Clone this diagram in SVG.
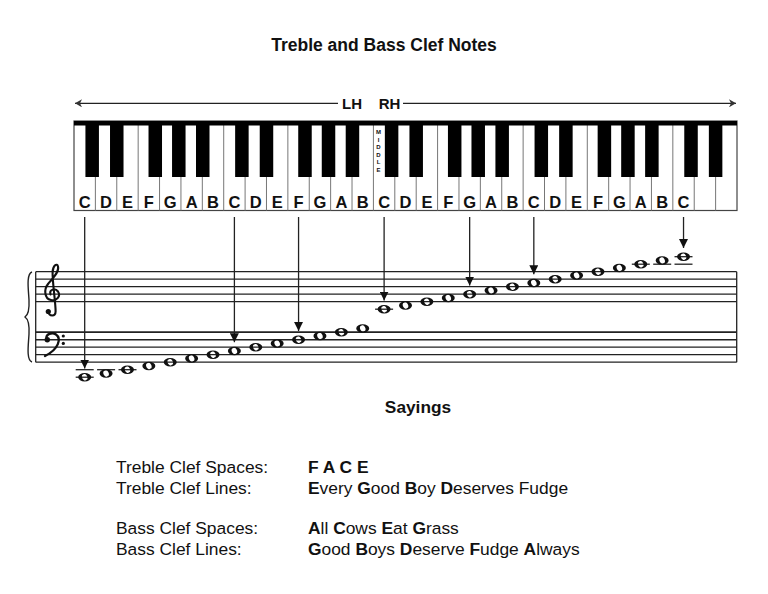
<svg xmlns="http://www.w3.org/2000/svg" xmlns:xlink="http://www.w3.org/1999/xlink" width="768" height="594" viewBox="0 0 768 594">
<style>
.t{font-family:"Liberation Sans",Arial,sans-serif;fill:#111}
.b{font-weight:bold}
.lab{font-family:"Liberation Sans",Arial,sans-serif;font-weight:bold;font-size:16.5px;fill:#111;text-anchor:middle}
.div{stroke:#777;stroke-width:1}
.bk{fill:#000}
.st{stroke:#222;stroke-width:1.3}
.led{stroke:#222;stroke-width:1.3}
.arr{stroke:#222;stroke-width:1.3;fill:none}
.sub{font-family:"Liberation Sans",Arial,sans-serif;font-size:17.4px;fill:#111}
</style>
<defs>
<marker id="ah" markerUnits="userSpaceOnUse" markerWidth="10" markerHeight="9" refX="9" refY="4.5" orient="auto">
<path d="M0,0 L9,4.5 L0,9 z" fill="#111"/>
</marker>
<marker id="ah2" markerUnits="userSpaceOnUse" markerWidth="8" markerHeight="8" refX="7" refY="4" orient="auto">
<path d="M0,0 L7,4 L0,8 L2,4 z" fill="#333"/>
</marker>
<path id="note" fill="#111" fill-rule="evenodd" d="M-6.5 0 A6.5 4.2 0 1 0 6.5 0 A6.5 4.2 0 1 0 -6.5 0 Z M-1.6 -2.6 A3.2 2.0 60 1 0 1.6 2.6 A3.2 2.0 60 1 0 -1.6 -2.6 Z"/>
</defs>
<rect width="768" height="594" fill="#fff"/>

<g id="title">
<text class="t b" x="384" y="50.5" font-size="17.5" text-anchor="middle">Treble and Bass Clef Notes</text>
</g>

<g id="hands">
<line class="arr" x1="338" y1="103.3" x2="75" y2="103.3" stroke="#333" stroke-width="1.5" marker-end="url(#ah2)"/>
<line class="arr" x1="403" y1="103.3" x2="736" y2="103.3" stroke="#333" stroke-width="1.5" marker-end="url(#ah2)"/>
<text class="t b" x="352" y="109" font-size="15" text-anchor="middle">LH</text>
<text class="t b" x="389.5" y="109" font-size="15" text-anchor="middle">RH</text>
</g>

<g id="keyboard">
<rect x="74" y="121" width="663" height="89.5" fill="#fff" stroke="#444" stroke-width="1.2"/>
<g class="div">
<line x1="95.39" y1="121" x2="95.39" y2="210.5"/><line x1="116.77" y1="121" x2="116.77" y2="210.5"/><line x1="138.16" y1="121" x2="138.16" y2="210.5"/><line x1="159.55" y1="121" x2="159.55" y2="210.5"/><line x1="180.94" y1="121" x2="180.94" y2="210.5"/><line x1="202.32" y1="121" x2="202.32" y2="210.5"/><line x1="223.71" y1="121" x2="223.71" y2="210.5"/><line x1="245.10" y1="121" x2="245.10" y2="210.5"/><line x1="266.48" y1="121" x2="266.48" y2="210.5"/><line x1="287.87" y1="121" x2="287.87" y2="210.5"/>
<line x1="309.26" y1="121" x2="309.26" y2="210.5"/><line x1="330.64" y1="121" x2="330.64" y2="210.5"/><line x1="352.03" y1="121" x2="352.03" y2="210.5"/><line x1="373.42" y1="121" x2="373.42" y2="210.5"/><line x1="394.81" y1="121" x2="394.81" y2="210.5"/><line x1="416.19" y1="121" x2="416.19" y2="210.5"/><line x1="437.58" y1="121" x2="437.58" y2="210.5"/><line x1="458.97" y1="121" x2="458.97" y2="210.5"/><line x1="480.35" y1="121" x2="480.35" y2="210.5"/><line x1="501.74" y1="121" x2="501.74" y2="210.5"/>
<line x1="523.13" y1="121" x2="523.13" y2="210.5"/><line x1="544.51" y1="121" x2="544.51" y2="210.5"/><line x1="565.90" y1="121" x2="565.90" y2="210.5"/><line x1="587.29" y1="121" x2="587.29" y2="210.5"/><line x1="608.68" y1="121" x2="608.68" y2="210.5"/><line x1="630.06" y1="121" x2="630.06" y2="210.5"/><line x1="651.45" y1="121" x2="651.45" y2="210.5"/><line x1="672.84" y1="121" x2="672.84" y2="210.5"/><line x1="694.22" y1="121" x2="694.22" y2="210.5"/><line x1="715.61" y1="121" x2="715.61" y2="210.5"/>
</g>
<rect x="74" y="121" width="663" height="4.5" fill="#000"/>
<g class="bk">
<rect x="85.43" y="121" width="13.5" height="56"/><rect x="110.02" y="121" width="13.5" height="56"/><rect x="148.52" y="121" width="13.5" height="56"/><rect x="172.05" y="121" width="13.5" height="56"/><rect x="196.0" y="121" width="13.5" height="56"/>
<rect x="235.14" y="121" width="13.5" height="56"/><rect x="259.73" y="121" width="13.5" height="56"/><rect x="298.23" y="121" width="13.5" height="56"/><rect x="321.76" y="121" width="13.5" height="56"/><rect x="345.71" y="121" width="13.5" height="56"/>
<rect x="384.85" y="121" width="13.5" height="56"/><rect x="409.44" y="121" width="13.5" height="56"/><rect x="447.94" y="121" width="13.5" height="56"/><rect x="471.47" y="121" width="13.5" height="56"/><rect x="495.42" y="121" width="13.5" height="56"/>
<rect x="534.56" y="121" width="13.5" height="56"/><rect x="559.15" y="121" width="13.5" height="56"/><rect x="597.65" y="121" width="13.5" height="56"/><rect x="621.18" y="121" width="13.5" height="56"/><rect x="645.13" y="121" width="13.5" height="56"/>
<rect x="684.27" y="121" width="13.5" height="56"/><rect x="708.86" y="121" width="13.5" height="56"/>
</g>
<g font-family="Liberation Sans,Arial,sans-serif" font-weight="bold" font-size="6" fill="#111" text-anchor="middle">
<text x="378.5" y="134">M</text><text x="378.5" y="141.5">I</text><text x="378.5" y="149">D</text><text x="378.5" y="156.5">D</text><text x="378.5" y="164">L</text><text x="378.5" y="171.5">E</text>
</g>
<g class="lab">
<text x="84.69" y="208.3">C</text><text x="106.08" y="208.3">D</text><text x="127.47" y="208.3">E</text><text x="148.85" y="208.3">F</text><text x="170.24" y="208.3">G</text><text x="191.63" y="208.3">A</text><text x="213.02" y="208.3">B</text>
<text x="234.40" y="208.3">C</text><text x="255.79" y="208.3">D</text><text x="277.18" y="208.3">E</text><text x="298.56" y="208.3">F</text><text x="319.95" y="208.3">G</text><text x="341.34" y="208.3">A</text><text x="362.73" y="208.3">B</text>
<text x="384.11" y="208.3">C</text><text x="405.50" y="208.3">D</text><text x="426.89" y="208.3">E</text><text x="448.27" y="208.3">F</text><text x="469.66" y="208.3">G</text><text x="491.05" y="208.3">A</text><text x="512.44" y="208.3">B</text>
<text x="533.82" y="208.3">C</text><text x="555.21" y="208.3">D</text><text x="576.60" y="208.3">E</text><text x="597.98" y="208.3">F</text><text x="619.37" y="208.3">G</text><text x="640.76" y="208.3">A</text><text x="662.15" y="208.3">B</text>
<text x="683.53" y="208.3">C</text>
</g>
</g>

<g id="staff">
<g class="st">
<line x1="35.7" y1="271.7" x2="736.7" y2="271.7"/><line x1="35.7" y1="279.2" x2="736.7" y2="279.2"/><line x1="35.7" y1="286.7" x2="736.7" y2="286.7"/><line x1="35.7" y1="294.2" x2="736.7" y2="294.2"/><line x1="35.7" y1="301.7" x2="736.7" y2="301.7"/>
<line x1="35.7" y1="332.2" x2="736.7" y2="332.2" stroke-width="1.7"/><line x1="35.7" y1="339.7" x2="736.7" y2="339.7" stroke-width="1.6"/><line x1="35.7" y1="347.2" x2="736.7" y2="347.2"/><line x1="35.7" y1="354.7" x2="736.7" y2="354.7"/><line x1="35.7" y1="362.2" x2="736.7" y2="362.2"/>
<line x1="35.7" y1="271.7" x2="35.7" y2="362.2"/><line x1="736.7" y1="271.7" x2="736.7" y2="362.2"/>
</g>
<path d="M32 272 C26 274 28.5 290 29 300 C29.5 310 28 315 25 317 C28 319 29.5 324 29 334 C28.5 344 26 360 32 362" fill="none" stroke="#222" stroke-width="1.4"/>
<g id="treble-clef" fill="none" stroke="#111" stroke-width="2.1" stroke-linecap="round">
<path d="M48.5 312 C49 316.5 55.5 317 55.6 311.5 C55.8 304 52.2 281 52.6 272 C53 265.5 57 262.5 58 266.5 C59.5 272.5 52 279 48 284 C44 289 44 298.5 51 300 C57 301.2 61 296 58 291.5 C55 287.5 49 289.5 50.5 294.5"/>
<circle cx="48.3" cy="311.5" r="2.6" fill="#111" stroke="none"/>
</g>
<g id="bass-clef" fill="none" stroke="#111" stroke-linecap="round">
<path d="M46.5 339 C45.5 334 52 331.8 56 334.5 C61.5 338.5 59 349 45 356" stroke-width="2.3"/>
<circle cx="47.3" cy="339.8" r="2.7" fill="#111" stroke="none"/>
<circle cx="63.3" cy="336" r="1.6" fill="#111" stroke="none"/>
<circle cx="63.3" cy="343.4" r="1.6" fill="#111" stroke="none"/>
</g>
<g class="led">
<line x1="75.7" y1="369.7" x2="93.7" y2="369.7"/><line x1="75.7" y1="377.2" x2="93.7" y2="377.2"/>
<line x1="97.1" y1="369.7" x2="115.1" y2="369.7"/><line x1="118.5" y1="369.7" x2="136.5" y2="369.7"/>
<line x1="375.1" y1="309.2" x2="393.1" y2="309.2"/>
<line x1="631.8" y1="264.2" x2="649.8" y2="264.2"/><line x1="653.2" y1="264.2" x2="671.2" y2="264.2"/>
<line x1="674.5" y1="264.2" x2="692.5" y2="264.2"/><line x1="674.5" y1="256.7" x2="692.5" y2="256.7"/>
</g>
</g>

<g id="notes">
<use id="n-C2" xlink:href="#note" href="#note" x="84.69" y="377.2"/>
<use id="n-D2" xlink:href="#note" href="#note" x="106.08" y="373.45"/>
<use id="n-E2" xlink:href="#note" href="#note" x="127.47" y="369.7"/>
<use id="n-F2" xlink:href="#note" href="#note" x="148.85" y="365.95"/>
<use id="n-G2" xlink:href="#note" href="#note" x="170.24" y="362.2"/>
<use id="n-A2" xlink:href="#note" href="#note" x="191.63" y="358.45"/>
<use id="n-B2" xlink:href="#note" href="#note" x="213.02" y="354.7"/>
<use id="n-C3" xlink:href="#note" href="#note" x="234.40" y="350.95"/>
<use id="n-D3" xlink:href="#note" href="#note" x="255.79" y="347.2"/>
<use id="n-E3" xlink:href="#note" href="#note" x="277.18" y="343.45"/>
<use id="n-F3" xlink:href="#note" href="#note" x="298.56" y="339.7"/>
<use id="n-G3" xlink:href="#note" href="#note" x="319.95" y="335.95"/>
<use id="n-A3" xlink:href="#note" href="#note" x="341.34" y="332.2"/>
<use id="n-B3" xlink:href="#note" href="#note" x="362.73" y="328.45"/>
<use id="n-C4" xlink:href="#note" href="#note" x="384.11" y="309.2"/>
<use id="n-D4" xlink:href="#note" href="#note" x="405.50" y="305.45"/>
<use id="n-E4" xlink:href="#note" href="#note" x="426.89" y="301.7"/>
<use id="n-F4" xlink:href="#note" href="#note" x="448.27" y="297.95"/>
<use id="n-G4" xlink:href="#note" href="#note" x="469.66" y="294.2"/>
<use id="n-A4" xlink:href="#note" href="#note" x="491.05" y="290.45"/>
<use id="n-B4" xlink:href="#note" href="#note" x="512.44" y="286.7"/>
<use id="n-C5" xlink:href="#note" href="#note" x="533.82" y="282.95"/>
<use id="n-D5" xlink:href="#note" href="#note" x="555.21" y="279.2"/>
<use id="n-E5" xlink:href="#note" href="#note" x="576.60" y="275.45"/>
<use id="n-F5" xlink:href="#note" href="#note" x="597.98" y="271.7"/>
<use id="n-G5" xlink:href="#note" href="#note" x="619.37" y="267.95"/>
<use id="n-A5" xlink:href="#note" href="#note" x="640.76" y="264.2"/>
<use id="n-B5" xlink:href="#note" href="#note" x="662.15" y="260.45"/>
<use id="n-C6" xlink:href="#note" href="#note" x="683.53" y="256.7"/>
</g>

<g id="connectors" class="arr">
<line x1="84.69" y1="217" x2="84.69" y2="368.5" marker-end="url(#ah)"/>
<line x1="234.40" y1="217" x2="234.40" y2="342.2" marker-end="url(#ah)"/>
<line x1="298.56" y1="217" x2="298.56" y2="331" marker-end="url(#ah)"/>
<line x1="384.11" y1="217" x2="384.11" y2="300.5" marker-end="url(#ah)"/>
<line x1="469.66" y1="217" x2="469.66" y2="285.5" marker-end="url(#ah)"/>
<line x1="533.82" y1="217" x2="533.82" y2="274.2" marker-end="url(#ah)"/>
<line x1="683.53" y1="217" x2="683.53" y2="248" marker-end="url(#ah)"/>
</g>

<g id="sayings">
<text class="t b" x="418" y="413.3" font-size="17.3" text-anchor="middle">Sayings</text>
<text class="sub" x="116" y="473">Treble Clef Spaces:</text>
<text class="sub" x="116" y="493.5">Treble Clef Lines:</text>
<text class="sub" x="116" y="534">Bass Clef Spaces:</text>
<text class="sub" x="116" y="554.5">Bass Clef Lines:</text>
<text class="sub b" x="308" y="473">F A C E</text>
<text class="sub" x="308" y="493.5"><tspan class="b">E</tspan>very <tspan class="b">G</tspan>ood <tspan class="b">B</tspan>oy <tspan class="b">D</tspan>eserves Fudge</text>
<text class="sub" x="308" y="534"><tspan class="b">A</tspan>ll <tspan class="b">C</tspan>ows <tspan class="b">E</tspan>at <tspan class="b">G</tspan>rass</text>
<text class="sub" x="308" y="554.5"><tspan class="b">G</tspan>ood <tspan class="b">B</tspan>oys <tspan class="b">D</tspan>eserve <tspan class="b">F</tspan>udge <tspan class="b">A</tspan>lways</text>
</g>
</svg>
